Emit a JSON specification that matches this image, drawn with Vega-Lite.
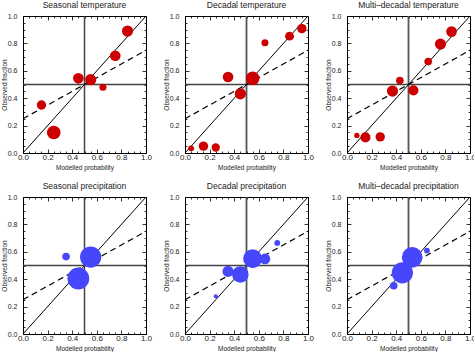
{
  "$schema": "https://vega.github.io/schema/vega-lite/v6.json",
  "background": "white",
  "padding": {"left": 0, "top": 0, "right": 0, "bottom": 0},
  "datasets": {
    "st": [{"p":0.15,"f":0.35,"n":88},{"p":0.25,"f":0.15,"n":186},{"p":0.45,"f":0.545,"n":113},{"p":0.55,"f":0.535,"n":125},{"p":0.65,"f":0.48,"n":50},{"p":0.75,"f":0.71,"n":113},{"p":0.85,"f":0.89,"n":125}],
    "dt": [{"p":0.05,"f":0.034,"n":34},{"p":0.15,"f":0.05,"n":88},{"p":0.25,"f":0.04,"n":69},{"p":0.35,"f":0.555,"n":113},{"p":0.45,"f":0.432,"n":125},{"p":0.55,"f":0.545,"n":186},{"p":0.65,"f":0.805,"n":50},{"p":0.85,"f":0.853,"n":79},{"p":0.95,"f":0.908,"n":88}],
    "mt": [{"p":0.08,"f":0.128,"n":28},{"p":0.15,"f":0.114,"n":102},{"p":0.27,"f":0.118,"n":88},{"p":0.37,"f":0.452,"n":125},{"p":0.43,"f":0.529,"n":58},{"p":0.54,"f":0.457,"n":102},{"p":0.66,"f":0.667,"n":58},{"p":0.76,"f":0.795,"n":125},{"p":0.85,"f":0.886,"n":113}],
    "sp": [{"p":0.35,"f":0.565,"n":58},{"p":0.55,"f":0.562,"n":452},{"p":0.45,"f":0.405,"n":475}],
    "dp": [{"p":0.25,"f":0.275,"n":17},{"p":0.35,"f":0.457,"n":125},{"p":0.45,"f":0.435,"n":272},{"p":0.55,"f":0.55,"n":360},{"p":0.65,"f":0.548,"n":113},{"p":0.75,"f":0.665,"n":34}],
    "mp": [{"p":0.38,"f":0.352,"n":58},{"p":0.45,"f":0.447,"n":452},{"p":0.53,"f":0.56,"n":430},{"p":0.65,"f":0.609,"n":34}]
  },
  "columns": 3,
  "spacing": {"row": 10, "column": 9},
  "concat": [
    {"width": 123, "height": 137, "title": "Seasonal temperature",
     "resolve": {"axis": {"x": "independent", "y": "independent"}},
     "layer": [
      {"data": {"values": [{}]}, "mark": {"type": "rule", "color": "#444", "strokeWidth": 1.5}, "encoding": {"x": {"datum": 0.5, "type": "quantitative", "axis": {"orient": "top", "labels": false, "title": null, "values": [0,0.05,0.1,0.15,0.2,0.25,0.3,0.35,0.4,0.45,0.5,0.55,0.6,0.65,0.7,0.75,0.8,0.85,0.9,0.95,1], "tickSize": {"condition": {"test": "abs(datum.value*5-round(datum.value*5))<0.001", "value": -4}, "value": -2}}}}},
      {"data": {"values": [{}]}, "mark": {"type": "rule", "color": "#444", "strokeWidth": 1.5}, "encoding": {"y": {"datum": 0.5, "type": "quantitative", "axis": {"orient": "right", "labels": false, "title": null, "values": [0,0.05,0.1,0.15,0.2,0.25,0.3,0.35,0.4,0.45,0.5,0.55,0.6,0.65,0.7,0.75,0.8,0.85,0.9,0.95,1], "tickSize": {"condition": {"test": "abs(datum.value*5-round(datum.value*5))<0.001", "value": -4}, "value": -2}}}}},
      {"data": {"values": [{}]}, "mark": {"type": "rule", "color": "black", "strokeWidth": 1}, "encoding": {"x": {"datum": 0, "type": "quantitative", "axis": null}, "y": {"datum": 0, "type": "quantitative", "axis": null}, "x2": {"datum": 1}, "y2": {"datum": 1}}},
      {"data": {"values": [{}]}, "mark": {"type": "rule", "color": "black", "strokeWidth": 1.2, "strokeDash": [6, 4]}, "encoding": {"x": {"datum": 0, "type": "quantitative", "axis": null}, "y": {"datum": 0.25, "type": "quantitative", "axis": null}, "x2": {"datum": 1}, "y2": {"datum": 0.75}}},
      {"data": {"name": "st"}, "mark": {"type": "circle", "opacity": 1, "color": "#cc0000"},
       "encoding": {
        "x": {"field": "p", "type": "quantitative", "scale": {"domain": [0, 1], "nice": false}, "axis": {"orient": "bottom", "title": "Modelled probability", "values": [0,0.05,0.1,0.15,0.2,0.25,0.3,0.35,0.4,0.45,0.5,0.55,0.6,0.65,0.7,0.75,0.8,0.85,0.9,0.95,1], "labelExpr": "abs(datum.value*5-round(datum.value*5))<0.001 ? format(datum.value, '.1f') : ''", "tickSize": {"condition": {"test": "abs(datum.value*5-round(datum.value*5))<0.001", "value": -4}, "value": -2}}},
        "y": {"field": "f", "type": "quantitative", "scale": {"domain": [0, 1], "nice": false}, "axis": {"orient": "left", "title": "Observed fraction", "values": [0,0.05,0.1,0.15,0.2,0.25,0.3,0.35,0.4,0.45,0.5,0.55,0.6,0.65,0.7,0.75,0.8,0.85,0.9,0.95,1], "labelExpr": "abs(datum.value*5-round(datum.value*5))<0.001 ? format(datum.value, '.1f') : ''", "tickSize": {"condition": {"test": "abs(datum.value*5-round(datum.value*5))<0.001", "value": -4}, "value": -2}}},
        "size": {"field": "n", "type": "quantitative", "scale": {"domain": [0, 500], "range": [0, 500]}, "legend": null}}}
     ]},
    {"width": 123, "height": 137, "title": "Decadal temperature",
     "resolve": {"axis": {"x": "independent", "y": "independent"}},
     "layer": [
      {"data": {"values": [{}]}, "mark": {"type": "rule", "color": "#555", "strokeWidth": 1.8}, "encoding": {"x": {"datum": 0.5, "type": "quantitative", "axis": {"orient": "top", "labels": false, "title": null, "values": [0,0.05,0.1,0.15,0.2,0.25,0.3,0.35,0.4,0.45,0.5,0.55,0.6,0.65,0.7,0.75,0.8,0.85,0.9,0.95,1], "tickSize": {"condition": {"test": "abs(datum.value*5-round(datum.value*5))<0.001", "value": -4}, "value": -2}}}}},
      {"data": {"values": [{}]}, "mark": {"type": "rule", "color": "#444", "strokeWidth": 1.5}, "encoding": {"y": {"datum": 0.5, "type": "quantitative", "axis": {"orient": "right", "labels": false, "title": null, "values": [0,0.05,0.1,0.15,0.2,0.25,0.3,0.35,0.4,0.45,0.5,0.55,0.6,0.65,0.7,0.75,0.8,0.85,0.9,0.95,1], "tickSize": {"condition": {"test": "abs(datum.value*5-round(datum.value*5))<0.001", "value": -4}, "value": -2}}}}},
      {"data": {"values": [{}]}, "mark": {"type": "rule", "color": "black", "strokeWidth": 1}, "encoding": {"x": {"datum": 0, "type": "quantitative", "axis": null}, "y": {"datum": 0, "type": "quantitative", "axis": null}, "x2": {"datum": 1}, "y2": {"datum": 1}}},
      {"data": {"values": [{}]}, "mark": {"type": "rule", "color": "black", "strokeWidth": 1.2, "strokeDash": [6, 4]}, "encoding": {"x": {"datum": 0, "type": "quantitative", "axis": null}, "y": {"datum": 0.25, "type": "quantitative", "axis": null}, "x2": {"datum": 1}, "y2": {"datum": 0.75}}},
      {"data": {"name": "dt"}, "mark": {"type": "circle", "opacity": 1, "color": "#cc0000"},
       "encoding": {
        "x": {"field": "p", "type": "quantitative", "scale": {"domain": [0, 1], "nice": false}, "axis": {"orient": "bottom", "title": "Modelled probability", "values": [0,0.05,0.1,0.15,0.2,0.25,0.3,0.35,0.4,0.45,0.5,0.55,0.6,0.65,0.7,0.75,0.8,0.85,0.9,0.95,1], "labelExpr": "abs(datum.value*5-round(datum.value*5))<0.001 ? format(datum.value, '.1f') : ''", "tickSize": {"condition": {"test": "abs(datum.value*5-round(datum.value*5))<0.001", "value": -4}, "value": -2}}},
        "y": {"field": "f", "type": "quantitative", "scale": {"domain": [0, 1], "nice": false}, "axis": {"orient": "left", "title": "Observed fraction", "values": [0,0.05,0.1,0.15,0.2,0.25,0.3,0.35,0.4,0.45,0.5,0.55,0.6,0.65,0.7,0.75,0.8,0.85,0.9,0.95,1], "labelExpr": "abs(datum.value*5-round(datum.value*5))<0.001 ? format(datum.value, '.1f') : ''", "tickSize": {"condition": {"test": "abs(datum.value*5-round(datum.value*5))<0.001", "value": -4}, "value": -2}}},
        "size": {"field": "n", "type": "quantitative", "scale": {"domain": [0, 500], "range": [0, 500]}, "legend": null}}}
     ]},
    {"width": 123, "height": 137, "title": "Multi\u2013decadal temperature",
     "resolve": {"axis": {"x": "independent", "y": "independent"}},
     "layer": [
      {"data": {"values": [{}]}, "mark": {"type": "rule", "color": "#555", "strokeWidth": 1.8}, "encoding": {"x": {"datum": 0.5, "type": "quantitative", "axis": {"orient": "top", "labels": false, "title": null, "values": [0,0.05,0.1,0.15,0.2,0.25,0.3,0.35,0.4,0.45,0.5,0.55,0.6,0.65,0.7,0.75,0.8,0.85,0.9,0.95,1], "tickSize": {"condition": {"test": "abs(datum.value*5-round(datum.value*5))<0.001", "value": -4}, "value": -2}}}}},
      {"data": {"values": [{}]}, "mark": {"type": "rule", "color": "#444", "strokeWidth": 1.5}, "encoding": {"y": {"datum": 0.5, "type": "quantitative", "axis": {"orient": "right", "labels": false, "title": null, "values": [0,0.05,0.1,0.15,0.2,0.25,0.3,0.35,0.4,0.45,0.5,0.55,0.6,0.65,0.7,0.75,0.8,0.85,0.9,0.95,1], "tickSize": {"condition": {"test": "abs(datum.value*5-round(datum.value*5))<0.001", "value": -4}, "value": -2}}}}},
      {"data": {"values": [{}]}, "mark": {"type": "rule", "color": "black", "strokeWidth": 1}, "encoding": {"x": {"datum": 0, "type": "quantitative", "axis": null}, "y": {"datum": 0, "type": "quantitative", "axis": null}, "x2": {"datum": 1}, "y2": {"datum": 1}}},
      {"data": {"values": [{}]}, "mark": {"type": "rule", "color": "black", "strokeWidth": 1.2, "strokeDash": [6, 4]}, "encoding": {"x": {"datum": 0, "type": "quantitative", "axis": null}, "y": {"datum": 0.25, "type": "quantitative", "axis": null}, "x2": {"datum": 1}, "y2": {"datum": 0.75}}},
      {"data": {"name": "mt"}, "mark": {"type": "circle", "opacity": 1, "color": "#cc0000"},
       "encoding": {
        "x": {"field": "p", "type": "quantitative", "scale": {"domain": [0, 1], "nice": false}, "axis": {"orient": "bottom", "title": "Modelled probability", "values": [0,0.05,0.1,0.15,0.2,0.25,0.3,0.35,0.4,0.45,0.5,0.55,0.6,0.65,0.7,0.75,0.8,0.85,0.9,0.95,1], "labelExpr": "abs(datum.value*5-round(datum.value*5))<0.001 ? format(datum.value, '.1f') : ''", "tickSize": {"condition": {"test": "abs(datum.value*5-round(datum.value*5))<0.001", "value": -4}, "value": -2}}},
        "y": {"field": "f", "type": "quantitative", "scale": {"domain": [0, 1], "nice": false}, "axis": {"orient": "left", "title": "Observed fraction", "values": [0,0.05,0.1,0.15,0.2,0.25,0.3,0.35,0.4,0.45,0.5,0.55,0.6,0.65,0.7,0.75,0.8,0.85,0.9,0.95,1], "labelExpr": "abs(datum.value*5-round(datum.value*5))<0.001 ? format(datum.value, '.1f') : ''", "tickSize": {"condition": {"test": "abs(datum.value*5-round(datum.value*5))<0.001", "value": -4}, "value": -2}}},
        "size": {"field": "n", "type": "quantitative", "scale": {"domain": [0, 500], "range": [0, 500]}, "legend": null}}}
     ]},
    {"width": 123, "height": 137, "title": "Seasonal precipitation",
     "resolve": {"axis": {"x": "independent", "y": "independent"}},
     "layer": [
      {"data": {"values": [{}]}, "mark": {"type": "rule", "color": "#444", "strokeWidth": 1.5}, "encoding": {"x": {"datum": 0.5, "type": "quantitative", "axis": {"orient": "top", "labels": false, "title": null, "values": [0,0.05,0.1,0.15,0.2,0.25,0.3,0.35,0.4,0.45,0.5,0.55,0.6,0.65,0.7,0.75,0.8,0.85,0.9,0.95,1], "tickSize": {"condition": {"test": "abs(datum.value*5-round(datum.value*5))<0.001", "value": -4}, "value": -2}}}}},
      {"data": {"values": [{}]}, "mark": {"type": "rule", "color": "#444", "strokeWidth": 1.5}, "encoding": {"y": {"datum": 0.5, "type": "quantitative", "axis": {"orient": "right", "labels": false, "title": null, "values": [0,0.05,0.1,0.15,0.2,0.25,0.3,0.35,0.4,0.45,0.5,0.55,0.6,0.65,0.7,0.75,0.8,0.85,0.9,0.95,1], "tickSize": {"condition": {"test": "abs(datum.value*5-round(datum.value*5))<0.001", "value": -4}, "value": -2}}}}},
      {"data": {"values": [{}]}, "mark": {"type": "rule", "color": "black", "strokeWidth": 1}, "encoding": {"x": {"datum": 0, "type": "quantitative", "axis": null}, "y": {"datum": 0, "type": "quantitative", "axis": null}, "x2": {"datum": 1}, "y2": {"datum": 1}}},
      {"data": {"values": [{}]}, "mark": {"type": "rule", "color": "black", "strokeWidth": 1.2, "strokeDash": [6, 4]}, "encoding": {"x": {"datum": 0, "type": "quantitative", "axis": null}, "y": {"datum": 0.25, "type": "quantitative", "axis": null}, "x2": {"datum": 1}, "y2": {"datum": 0.75}}},
      {"data": {"name": "sp"}, "mark": {"type": "circle", "opacity": 1, "color": "#4646fa"},
       "encoding": {
        "x": {"field": "p", "type": "quantitative", "scale": {"domain": [0, 1], "nice": false}, "axis": {"orient": "bottom", "title": "Modelled probability", "values": [0,0.05,0.1,0.15,0.2,0.25,0.3,0.35,0.4,0.45,0.5,0.55,0.6,0.65,0.7,0.75,0.8,0.85,0.9,0.95,1], "labelExpr": "abs(datum.value*5-round(datum.value*5))<0.001 ? format(datum.value, '.1f') : ''", "tickSize": {"condition": {"test": "abs(datum.value*5-round(datum.value*5))<0.001", "value": -4}, "value": -2}}},
        "y": {"field": "f", "type": "quantitative", "scale": {"domain": [0, 1], "nice": false}, "axis": {"orient": "left", "title": "Observed fraction", "values": [0,0.05,0.1,0.15,0.2,0.25,0.3,0.35,0.4,0.45,0.5,0.55,0.6,0.65,0.7,0.75,0.8,0.85,0.9,0.95,1], "labelExpr": "abs(datum.value*5-round(datum.value*5))<0.001 ? format(datum.value, '.1f') : ''", "tickSize": {"condition": {"test": "abs(datum.value*5-round(datum.value*5))<0.001", "value": -4}, "value": -2}}},
        "size": {"field": "n", "type": "quantitative", "scale": {"domain": [0, 500], "range": [0, 500]}, "legend": null}}}
     ]},
    {"width": 123, "height": 137, "title": "Decadal precipitation",
     "resolve": {"axis": {"x": "independent", "y": "independent"}},
     "layer": [
      {"data": {"values": [{}]}, "mark": {"type": "rule", "color": "#555", "strokeWidth": 1.8}, "encoding": {"x": {"datum": 0.5, "type": "quantitative", "axis": {"orient": "top", "labels": false, "title": null, "values": [0,0.05,0.1,0.15,0.2,0.25,0.3,0.35,0.4,0.45,0.5,0.55,0.6,0.65,0.7,0.75,0.8,0.85,0.9,0.95,1], "tickSize": {"condition": {"test": "abs(datum.value*5-round(datum.value*5))<0.001", "value": -4}, "value": -2}}}}},
      {"data": {"values": [{}]}, "mark": {"type": "rule", "color": "#444", "strokeWidth": 1.5}, "encoding": {"y": {"datum": 0.5, "type": "quantitative", "axis": {"orient": "right", "labels": false, "title": null, "values": [0,0.05,0.1,0.15,0.2,0.25,0.3,0.35,0.4,0.45,0.5,0.55,0.6,0.65,0.7,0.75,0.8,0.85,0.9,0.95,1], "tickSize": {"condition": {"test": "abs(datum.value*5-round(datum.value*5))<0.001", "value": -4}, "value": -2}}}}},
      {"data": {"values": [{}]}, "mark": {"type": "rule", "color": "black", "strokeWidth": 1}, "encoding": {"x": {"datum": 0, "type": "quantitative", "axis": null}, "y": {"datum": 0, "type": "quantitative", "axis": null}, "x2": {"datum": 1}, "y2": {"datum": 1}}},
      {"data": {"values": [{}]}, "mark": {"type": "rule", "color": "black", "strokeWidth": 1.2, "strokeDash": [6, 4]}, "encoding": {"x": {"datum": 0, "type": "quantitative", "axis": null}, "y": {"datum": 0.25, "type": "quantitative", "axis": null}, "x2": {"datum": 1}, "y2": {"datum": 0.75}}},
      {"data": {"name": "dp"}, "mark": {"type": "circle", "opacity": 1, "color": "#4646fa"},
       "encoding": {
        "x": {"field": "p", "type": "quantitative", "scale": {"domain": [0, 1], "nice": false}, "axis": {"orient": "bottom", "title": "Modelled probability", "values": [0,0.05,0.1,0.15,0.2,0.25,0.3,0.35,0.4,0.45,0.5,0.55,0.6,0.65,0.7,0.75,0.8,0.85,0.9,0.95,1], "labelExpr": "abs(datum.value*5-round(datum.value*5))<0.001 ? format(datum.value, '.1f') : ''", "tickSize": {"condition": {"test": "abs(datum.value*5-round(datum.value*5))<0.001", "value": -4}, "value": -2}}},
        "y": {"field": "f", "type": "quantitative", "scale": {"domain": [0, 1], "nice": false}, "axis": {"orient": "left", "title": "Observed fraction", "values": [0,0.05,0.1,0.15,0.2,0.25,0.3,0.35,0.4,0.45,0.5,0.55,0.6,0.65,0.7,0.75,0.8,0.85,0.9,0.95,1], "labelExpr": "abs(datum.value*5-round(datum.value*5))<0.001 ? format(datum.value, '.1f') : ''", "tickSize": {"condition": {"test": "abs(datum.value*5-round(datum.value*5))<0.001", "value": -4}, "value": -2}}},
        "size": {"field": "n", "type": "quantitative", "scale": {"domain": [0, 500], "range": [0, 500]}, "legend": null}}}
     ]},
    {"width": 123, "height": 137, "title": "Multi\u2013decadal precipitation",
     "resolve": {"axis": {"x": "independent", "y": "independent"}},
     "layer": [
      {"data": {"values": [{}]}, "mark": {"type": "rule", "color": "#555", "strokeWidth": 1.8}, "encoding": {"x": {"datum": 0.5, "type": "quantitative", "axis": {"orient": "top", "labels": false, "title": null, "values": [0,0.05,0.1,0.15,0.2,0.25,0.3,0.35,0.4,0.45,0.5,0.55,0.6,0.65,0.7,0.75,0.8,0.85,0.9,0.95,1], "tickSize": {"condition": {"test": "abs(datum.value*5-round(datum.value*5))<0.001", "value": -4}, "value": -2}}}}},
      {"data": {"values": [{}]}, "mark": {"type": "rule", "color": "#444", "strokeWidth": 1.5}, "encoding": {"y": {"datum": 0.5, "type": "quantitative", "axis": {"orient": "right", "labels": false, "title": null, "values": [0,0.05,0.1,0.15,0.2,0.25,0.3,0.35,0.4,0.45,0.5,0.55,0.6,0.65,0.7,0.75,0.8,0.85,0.9,0.95,1], "tickSize": {"condition": {"test": "abs(datum.value*5-round(datum.value*5))<0.001", "value": -4}, "value": -2}}}}},
      {"data": {"values": [{}]}, "mark": {"type": "rule", "color": "black", "strokeWidth": 1}, "encoding": {"x": {"datum": 0, "type": "quantitative", "axis": null}, "y": {"datum": 0, "type": "quantitative", "axis": null}, "x2": {"datum": 1}, "y2": {"datum": 1}}},
      {"data": {"values": [{}]}, "mark": {"type": "rule", "color": "black", "strokeWidth": 1.2, "strokeDash": [6, 4]}, "encoding": {"x": {"datum": 0, "type": "quantitative", "axis": null}, "y": {"datum": 0.25, "type": "quantitative", "axis": null}, "x2": {"datum": 1}, "y2": {"datum": 0.75}}},
      {"data": {"name": "mp"}, "mark": {"type": "circle", "opacity": 1, "color": "#4646fa"},
       "encoding": {
        "x": {"field": "p", "type": "quantitative", "scale": {"domain": [0, 1], "nice": false}, "axis": {"orient": "bottom", "title": "Modelled probability", "values": [0,0.05,0.1,0.15,0.2,0.25,0.3,0.35,0.4,0.45,0.5,0.55,0.6,0.65,0.7,0.75,0.8,0.85,0.9,0.95,1], "labelExpr": "abs(datum.value*5-round(datum.value*5))<0.001 ? format(datum.value, '.1f') : ''", "tickSize": {"condition": {"test": "abs(datum.value*5-round(datum.value*5))<0.001", "value": -4}, "value": -2}}},
        "y": {"field": "f", "type": "quantitative", "scale": {"domain": [0, 1], "nice": false}, "axis": {"orient": "left", "title": "Observed fraction", "values": [0,0.05,0.1,0.15,0.2,0.25,0.3,0.35,0.4,0.45,0.5,0.55,0.6,0.65,0.7,0.75,0.8,0.85,0.9,0.95,1], "labelExpr": "abs(datum.value*5-round(datum.value*5))<0.001 ? format(datum.value, '.1f') : ''", "tickSize": {"condition": {"test": "abs(datum.value*5-round(datum.value*5))<0.001", "value": -4}, "value": -2}}},
        "size": {"field": "n", "type": "quantitative", "scale": {"domain": [0, 500], "range": [0, 500]}, "legend": null}}}
     ]}
  ],
  "config": {
    "view": {"stroke": "black", "strokeWidth": 1},
    "axis": {"grid": false, "domain": false, "tickColor": "black", "tickWidth": 0.8, "labelFontSize": 8, "titleFontSize": 6.5, "labelFont": "Liberation Sans", "titleFont": "Liberation Sans", "titleFontWeight": "normal", "labelColor": "#222", "titleColor": "#222", "labelFlush": false, "labelOverlap": false},
    "axisX": {"labelPadding": 4, "titlePadding": 1},
    "axisY": {"labelPadding": 10, "titlePadding": 0, "labelFontSize": 7},
    "title": {"fontSize": 8.5, "fontWeight": "normal", "font": "Liberation Sans", "color": "#222", "offset": 3}
  }
}
